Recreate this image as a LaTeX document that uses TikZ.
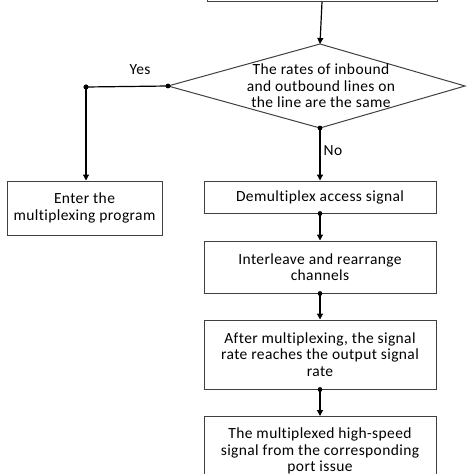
\documentclass[tikz,border=0pt]{standalone}
\usepackage{fontspec}
\setmainfont[LetterSpace=2.5,Ligatures={NoCommon}]{Carlito}
\usetikzlibrary{arrows.meta}
\begin{document}
\begin{tikzpicture}[x=1pt,y=-1pt,
  every node/.style={font=\fontsize{15.5}{16.5}\selectfont, text=black},
  procbox/.style={draw=black!75, line width=1pt, fill=white, align=center, inner sep=0pt},
  conn/.style={line width=1.2pt, draw=black, -{Triangle[length=6pt,width=6pt]}},
  dot/.style={fill=black},
  lbl/.style={inner sep=0pt}]
\useasboundingbox (0,0) rectangle (474,474);
\clip (0,0) rectangle (474,474);
% top (cut off) box
\node[procbox, minimum width=230pt, minimum height=30pt, anchor=south] (top) at (322,2) {};
% decision diamond
\coordinate (dt) at (320,44);
\coordinate (dl) at (168,86);
\coordinate (dr) at (465,86);
\coordinate (db) at (320,128);
\draw[line width=1pt, draw=black!75, fill=white] (dt) -- (dr) -- (db) -- (dl) -- cycle;
\node[align=center, inner sep=0pt] (dec) at (321,86) {The rates of inbound\\and outbound lines on\\the line are the same};
% boxes
\node[procbox, minimum width=155pt, minimum height=54pt] (enter) at (84.5,208) {Enter the\\multiplexing program};
\node[procbox, minimum width=232pt, minimum height=32pt] (demux) at (320,197) {Demultiplex access signal};
\node[procbox, minimum width=232pt, minimum height=52pt] (inter) at (320,267) {Interleave and rearrange\\channels};
\node[procbox, minimum width=232pt, minimum height=69pt] (after) at (320,354.5) {After multiplexing, the signal\\rate reaches the output signal\\rate};
\node[procbox, minimum width=232pt, minimum height=70pt, anchor=north] (final) at (320,416) {};
\node[align=center, inner sep=0pt] (finaltxt) at (320,451) {The multiplexed high-speed\\signal from the corresponding\\port issue};
% connectors
\coordinate (yc) at (86,87);
\draw[conn] (top.south) -- (dt);
\draw[line width=1.2pt, draw=black] (dl) -- (yc);
\draw[conn] (yc) -- (enter.north -| yc);
\draw[conn] (db) -- (demux.north);
\draw[conn] (demux.south) -- (inter.north);
\draw[conn] (inter.south) -- (after.north);
\draw[conn] (after.south) -- (final.north);
% dots
\fill[dot] (dl) circle (2.4pt);
\fill[dot] (yc) circle (2.6pt);
\fill[dot] (db) circle (2.4pt);
\fill[dot] (demux.south) circle (2.4pt);
\fill[dot] (inter.south) circle (2.4pt);
\fill[dot] (after.south) circle (2.4pt);
% labels
\node[lbl] (yes) at (140,70) {Yes};
\node[lbl] (no) at (333,151) {No};
\end{tikzpicture}
\end{document}
